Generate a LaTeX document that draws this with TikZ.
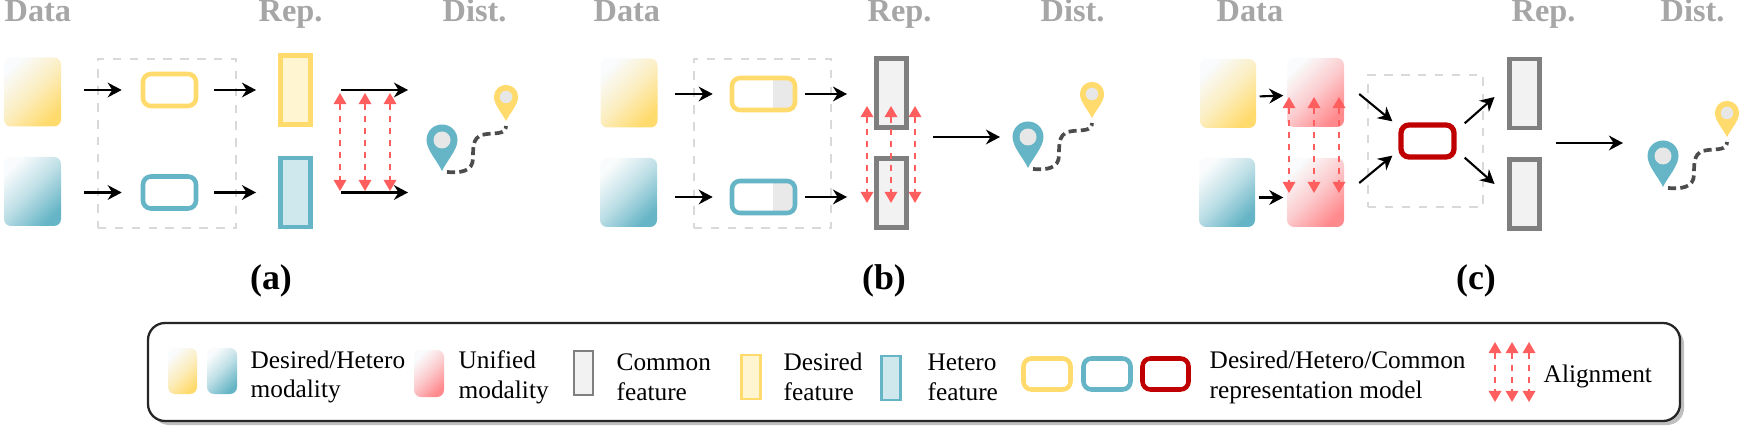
\documentclass[tikz,border=0pt]{standalone}
\usepackage{fontspec}
\setmainfont{Liberation Serif}
\usetikzlibrary{arrows.meta,shadows}
\definecolor{ycol}{HTML}{FFDB6E}
\definecolor{tcol}{HTML}{66B5C6}
\definecolor{rcol}{HTML}{FF5E5E}
\definecolor{pcol}{HTML}{FF8A8E}
\definecolor{dcol}{HTML}{C00000}
\definecolor{gcol}{HTML}{7F7F7F}
\definecolor{lgcol}{HTML}{F2F2F2}
\definecolor{lycol}{HTML}{FFF5D1}
\definecolor{ltcol}{HTML}{CFE8ED}
\definecolor{startcol}{HTML}{F9FBFC}
\definecolor{boxcol}{HTML}{D9D9D9}
\tikzset{
	datashade/.style={shape=rectangle, rounded corners=0.7mm, inner sep=0, minimum width=5.7mm, minimum height=6.9mm, top color=startcol, bottom color=#1, middle color=#1!42!startcol, shading angle=45},
	feature/.style={shape=rectangle, draw=#1, line width=1.4pt, inner sep=0, minimum width=3mm, minimum height=6.9mm},
	model/.style={shape=rectangle, draw=#1, line width=1.3pt, rounded corners=0.8mm, inner sep=0, minimum width=5.3mm, minimum height=3.2mm},
	dashbox/.style={shape=rectangle, draw=boxcol, line width=0.8pt, dash pattern=on 2.4pt off 2.4pt, inner sep=0},
	arr/.style={-{Stealth[length=4pt,width=4.2pt,inset=1.3pt]}, line width=0.6pt},
	alignarr/.style={{Triangle[length=3.2pt,width=3.6pt]}-{Triangle[length=3.2pt,width=3.6pt]}, rcol, line width=0.5pt, dash pattern=on 1.9pt off 1.5pt},
	title/.style={anchor=base west, inner sep=0, text=gray!70, font=\fontsize{9.2}{11}\selectfont\bfseries},
	panel/.style={inner sep=0, font=\fontsize{10.2}{12}\selectfont\bfseries},
	legtext/.style={anchor=west, inner sep=0, align=left, font=\fontsize{7.2}{8.5}\selectfont},
	route/.pic={
		\fill[tcol] (0,31) .. controls (-4,22) and (-15.5,10) .. (-15.5,0) .. controls (-15.5,-9) and (-8.5,-15.5) .. (0,-15.5) .. controls (8.5,-15.5) and (15.5,-9) .. (15.5,0) .. controls (15.5,10) and (4,22) .. (0,31) -- cycle;
		\fill[lgcol!90!gray] (0,0) circle[radius=8.5];
		\begin{scope}[shift={(64,-43)},scale=0.78]
			\fill[ycol] (0,31) .. controls (-4,22) and (-15.5,10) .. (-15.5,0) .. controls (-15.5,-9) and (-8.5,-15.5) .. (0,-15.5) .. controls (8.5,-15.5) and (15.5,-9) .. (15.5,0) .. controls (15.5,10) and (4,22) .. (0,31) -- cycle;
			\fill[lgcol!90!gray] (0,0) circle[radius=8];
		\end{scope}
		\draw[gray!60!black, line width=1.05pt, dash pattern=on 2.3pt off 1.2pt] (5,32) .. controls (18,33) and (31,32) .. (31,18) .. controls (31,5) and (31,-5) .. (45,-6) .. controls (55,-7) and (64,-6) .. (64,-14);
	}
}
\begin{document}
\begin{tikzpicture}[x=0.1mm,y=-0.1mm]
	\useasboundingbox (0,0) rectangle (1749,436);

	% panel a
	\node[title] (dataAt) at (4,22) {Data};
	\node[title] (repAt) at (258,22) {Rep.};
	\node[title] (distAt) at (442,22) {Dist.};
	\node[dashbox, minimum width=13.8mm, minimum height=16.9mm] (boxA) at (167,143.5) {};
	\node[datashade=ycol] (dataAtop) at (32.5,92) {};
	\node[datashade=tcol] (dataAbot) at (32.5,191.5) {};
	\node[model=ycol] (modelAtop) at (169.5,90) {};
	\node[model=tcol] (modelAbot) at (169.5,192.5) {};
	\node[feature=ycol, fill=lycol] (repAtop) at (295.5,90) {};
	\node[feature=tcol, fill=ltcol] (repAbot) at (295.5,192.5) {};
	\coordinate (endAtop) at (408,90);
	\coordinate (endAbot) at (408,192.5);
	\draw[arr, shorten <=2.2mm, shorten >=1.9mm] (dataAtop.east |- modelAtop) -- (modelAtop.west);
	\draw[arr, shorten <=2.2mm, shorten >=1.9mm] (dataAbot.east |- modelAbot) -- (modelAbot.west);
	\draw[arr, shorten <=1.6mm, shorten >=2.2mm] (modelAtop.east) -- (repAtop.west);
	\draw[arr, shorten <=1.6mm, shorten >=2.2mm] (modelAbot.east) -- (repAbot.west);
	\draw[arr, shorten <=2.8mm] (repAtop.east) -- (endAtop);
	\draw[arr, shorten <=2.8mm] (repAbot.east) -- (endAbot);
	\foreach \x [count=\i] in {340,365,390} {
		\coordinate (upA\i) at (\x,93);
		\coordinate (downA\i) at (\x,191);
		\draw[alignarr] (upA\i) -- (downA\i);
	}
	\pic at (442,140) {route};
	\node[panel] (labelA) at (271,281) {(a)};

	% panel b
	\node[title] (dataBt) at (593,22) {Data};
	\node[title] (repBt) at (867,22) {Rep.};
	\node[title] (distBt) at (1040,22) {Dist.};
	\node[dashbox, minimum width=13.7mm, minimum height=16.9mm] (boxB) at (762.5,143.5) {};
	\node[datashade=ycol] (dataBtop) at (629,93) {};
	\node[datashade=tcol] (dataBbot) at (628.5,192.5) {};
	\fill[lgcol!92!gray] (773,78) rectangle (795,110);
	\fill[lgcol!92!gray] (773,181) rectangle (795,213);
	\node[model=ycol, minimum width=6.3mm] (modelBtop) at (763.5,94) {};
	\node[model=tcol, minimum width=6.3mm] (modelBbot) at (763.5,197) {};
	\node[feature=gcol, fill=lgcol] (repBtop) at (891.5,93) {};
	\node[feature=gcol, fill=lgcol] (repBbot) at (891.5,193) {};
	\coordinate (startB) at (933,137);
	\coordinate (endB) at (1000,137);
	\draw[arr, shorten <=1.7mm, shorten >=1.7mm] (dataBtop.east |- modelBtop) -- (modelBtop.west);
	\draw[arr, shorten <=1.7mm, shorten >=1.7mm] (dataBbot.east |- modelBbot) -- (modelBbot.west);
	\draw[arr, shorten <=0.8mm, shorten >=2.7mm] (modelBtop.east) -- (repBtop.west |- modelBtop);
	\draw[arr, shorten <=0.8mm, shorten >=2.7mm] (modelBbot.east) -- (repBbot.west |- modelBbot);
	\draw[arr] (startB) -- (endB);
	\foreach \x [count=\i] in {867,891,915} {
		\coordinate (upB\i) at (\x,106);
		\coordinate (downB\i) at (\x,203);
		\draw[alignarr] (upB\i) -- (downB\i);
	}
	\pic at (1028,137) {route};
	\node[panel] (labelB) at (884,281) {(b)};

	% panel c
	\node[title] (dataCt) at (1216,22) {Data};
	\node[title] (repCt) at (1511,22) {Rep.};
	\node[title] (distCt) at (1660,22) {Dist.};
	\node[dashbox, minimum width=11.5mm, minimum height=13.2mm] (boxC) at (1425.5,141) {};
	\node[datashade=ycol, minimum width=5.6mm] (dataCtop) at (1228,93.5) {};
	\node[datashade=tcol, minimum width=5.6mm] (dataCbot) at (1227,192.5) {};
	\node[datashade=pcol] (uniCtop) at (1315.5,92.5) {};
	\node[datashade=pcol] (uniCbot) at (1315.5,192.5) {};
	\node[model=dcol, line width=1.5pt] (modelC) at (1427.5,141) {};
	\node[feature=gcol, fill=lgcol] (repCtop) at (1524.5,93.5) {};
	\node[feature=gcol, fill=lgcol] (repCbot) at (1524.5,194) {};
	\coordinate (startC) at (1556,143);
	\coordinate (endC) at (1623,143);
	\draw[arr, shorten <=0.3mm, shorten >=0.3mm] ([yshift=-0.3mm]dataCtop.east) -- ([yshift=-0.3mm]uniCtop.west);
	\draw[arr, shorten <=0.3mm, shorten >=0.3mm] ([yshift=-0.5mm]dataCbot.east) -- ([yshift=-0.5mm]uniCbot.west);
	\draw[arr] ([shift={(14.5,1.5)}]uniCtop.east) -- ([shift={(-6,-1)}]modelC.north west);
	\draw[arr] ([shift={(14.5,-9.5)}]uniCbot.east) -- ([shift={(-6,-4)}]modelC.south west);
	\draw[arr] ([shift={(8,1)}]modelC.north east) -- ([shift={(-12.5,3.5)}]repCtop.west);
	\draw[arr] ([shift={(8,-2)}]modelC.south east) -- ([shift={(-12.5,-10)}]repCbot.west);
	\draw[arr] (startC) -- (endC);
	\foreach \x [count=\i] in {1289,1314,1339} {
		\coordinate (upC\i) at (\x,97);
		\coordinate (downC\i) at (\x,193);
		\draw[alignarr] (upC\i) -- (downC\i);
	}
	\pic at (1663,156) {route};
	\node[panel] (labelC) at (1476,281) {(c)};

	% legend
	\node[shape=rectangle, draw=black!85, line width=0.65pt, fill=white, rounded corners=1.7mm, inner sep=0, minimum width=153.2mm, minimum height=9.8mm, drop shadow={shadow xshift=0.4mm, shadow yshift=-0.4mm, fill=gray, opacity=0.5}] (legend) at (914,372) {};
	\node[datashade=ycol, minimum width=2.9mm, minimum height=4.6mm] (legDataY) at (182.5,371) {};
	\node[datashade=tcol, minimum width=3mm, minimum height=4.6mm] (legDataT) at (222,371) {};
	\node[legtext] (legDataText) at (250,377) {Desired/Hetero\\modality};
	\node[datashade=pcol, minimum width=3mm, minimum height=4.7mm] (legUni) at (429,373.5) {};
	\node[legtext] (legUniText) at (458,377) {Unified\\modality};
	\node[feature=gcol, fill=lgcol, line width=0.8pt, minimum width=1.9mm, minimum height=4.4mm] (legCom) at (583.5,373) {};
	\node[legtext] (legComText) at (616,377) {Common\\feature};
	\node[feature=ycol, fill=lycol, line width=0.8pt, minimum width=1.9mm, minimum height=4.4mm] (legDes) at (751,377) {};
	\node[legtext] (legDesText) at (783,377) {Desired\\feature};
	\node[feature=tcol, fill=ltcol, line width=0.8pt, minimum width=1.9mm, minimum height=4.4mm] (legHet) at (891,378) {};
	\node[legtext] (legHetText) at (927,377) {Hetero\\feature};
	\node[model=ycol, minimum width=4.7mm, minimum height=3.1mm] (legModY) at (1047,374) {};
	\node[model=tcol, minimum width=4.7mm, minimum height=3.1mm] (legModT) at (1107,374) {};
	\node[model=dcol, minimum width=4.6mm, minimum height=3.1mm] (legModD) at (1165.5,374) {};
	\node[legtext] (legModText) at (1209,377) {Desired/Hetero/Common\\representation model};
	\foreach \x [count=\i] in {1495,1512,1529} {
		\coordinate (upL\i) at (\x,342);
		\coordinate (downL\i) at (\x,402);
		\draw[alignarr] (upL\i) -- (downL\i);
	}
	\node[legtext] (legAlignText) at (1543,376) {Alignment};
\end{tikzpicture}
\end{document}
